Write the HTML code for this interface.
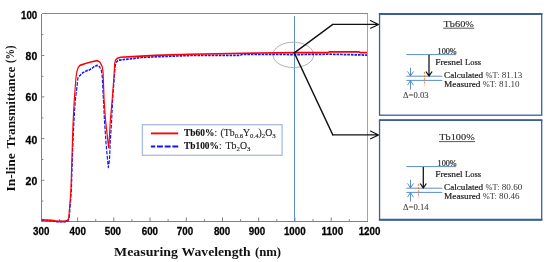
<!DOCTYPE html>
<html lang="en">
<head>
<meta charset="utf-8">
<title>In-line Transmittance vs Measuring Wavelength</title>
<style>
  html, body { margin: 0; padding: 0; background: #ffffff; }
  body { width: 550px; height: 262px; overflow: hidden; }
  svg { display: block; }
  .tick { font-family: "Liberation Sans", sans-serif; font-weight: bold; font-size: 11.8px; fill: #000; stroke: #000; stroke-width: 0.3px; }
  .axl { font-family: "Liberation Serif", serif; font-weight: bold; font-size: 12.4px; fill: #111; }
  .leg text { font-family: "Liberation Serif", serif; font-size: 9.5px; fill: #222; stroke: #222; stroke-width: 0.12px; }
  .leg .b { font-weight: bold; fill: #111; }
  .leg .sub { font-size: 6.6px; }
  .ttl { font-family: "Liberation Serif", serif; font-size: 9px; fill: #222; stroke: #222; stroke-width: 0.1px; }
  .bod text { font-family: "Liberation Serif", serif; font-size: 8px; fill: #1c1c1c; stroke: #1c1c1c; stroke-width: 0.18px; }
  .bod .lt { fill: #333; stroke: none; font-size: 7.8px; }
  .bod .dl { fill: #444; stroke: #444; stroke-width: 0.1px; }
</style>
</head>
<body>
<svg width="550" height="262" viewBox="0 0 550 262">
  <rect x="0" y="0" width="550" height="262" fill="#ffffff"/>

  <!-- plot frame -->
  <g fill="none" stroke-width="1" shape-rendering="crispEdges">
    <path d="M367.5 13.5V221.5" stroke="#a4a4a4"/>
    <path d="M41.5 13.5H367.5" stroke="#888888"/>
    <path d="M41.5 13.5V221.5H367.5" stroke="#808080"/>
  </g>
  <!-- ticks -->
  <g stroke="#808080" stroke-width="1" fill="none" id="ticks">
    <path d="M42 55.5h2.4M42 96.9h2.4M42 138.6h2.4M42 180.3h2.4"/>
    <path d="M42 34.7h1.4M42 76.3h1.4M42 117.9h1.4M42 159.5h1.4M42 201.1h1.4"/>
    <path d="M77.6 221v-3.6M113.8 221v-3.6M150 221v-3.6M186.3 221v-3.6M222.5 221v-3.6M258.7 221v-3.6M294.9 221v-3.6M331.2 221v-3.6"/>
    <path d="M59.5 221v-1.8M95.7 221v-1.8M131.9 221v-1.8M168.1 221v-1.8M204.4 221v-1.8M240.6 221v-1.8M276.8 221v-1.8M313 221v-1.8M349.3 221v-1.8"/>
  </g>

  <!-- vertical marker at 1000 nm -->
  <line x1="294.5" y1="16" x2="294.5" y2="221" stroke="#5b8bc6" stroke-width="1" shape-rendering="crispEdges"/>

  <!-- ellipse -->
  <ellipse cx="293.3" cy="54.9" rx="20.3" ry="12.7" fill="none" stroke="#a8a8a8" stroke-width="0.9"/>

  <!-- curves -->
  <g transform="matrix(0.7 0 0 1 0 0)" fill="none" stroke-linejoin="round">
  <path id="blue" stroke="#1414ff" stroke-width="1.7" stroke-dasharray="3.7 1.4"
    d="M60.00 219.8 L65.71 220.3 L77.43 220.9 L81.43 221.55 L93.14 221.55 L97.14 220.8 L98.71 218.3 L99.43 213.7 L100.43 204.6 L101.00 200 L102.00 190 L103.00 168 L104.00 146 L105.43 124 L107.43 101 L109.43 90 L111.29 78 L112.86 76.4 L118.14 72.8 L123.29 70.9 L128.57 69.6 L135.14 66.4 L139.00 65.4 L142.29 66.8 L144.86 70.5 L146.00 76 L147.71 99 L149.29 121 L151.43 143 L154.71 167.5 L156.43 160 L157.43 143 L159.43 121 L161.00 99 L163.43 76 L164.71 65.6 L166.29 61.9 L169.57 60.1 L182.71 59.2 L202.29 57.5 L221.43 56.8 L271.43 55.5 L328.57 55.3 L342.86 55.3 L345.71 54.5 L385.71 54.3 L421.43 54.6 L471.43 54.2 L500.00 54.7 L524.29 55.1"/>
  <path id="red" stroke="#ff0000" stroke-width="1.65"
    d="M59.29 219.5 L65.00 220 L76.71 220.6 L80.71 221.4 L92.43 221.4 L96.43 220.6 L98.00 218.3 L98.71 213.7 L99.71 204.6 L100.29 200 L101.29 190 L102.29 168 L103.29 146 L104.29 124 L106.00 101 L107.14 90 L108.43 78 L109.57 72.3 L111.57 67.7 L114.14 65.4 L123.29 63.2 L131.14 61.8 L139.00 60.6 L142.86 62.2 L146.14 66.8 L147.29 72.3 L147.57 78 L148.71 100 L150.86 121 L155.14 147.5 L155.71 144 L157.57 121 L160.29 99 L162.86 76 L163.71 63.7 L165.00 60.1 L167.71 58.2 L172.29 57.3 L189.29 56.6 L221.43 55.4 L271.43 54.3 L328.57 53.5 L371.43 53 L421.43 52.6 L468.86 52.6 L470.29 51.9 L513.14 51.9 L514.57 52.6 L524.29 52.6"/>
  </g>

  <!-- tick labels -->
  <g class="tick" text-anchor="end">
    <text x="37.2" y="18.5" textLength="16.2" lengthAdjust="spacingAndGlyphs">100</text>
    <text x="37.2" y="60" textLength="11.6" lengthAdjust="spacingAndGlyphs">80</text>
    <text x="37.2" y="101.4" textLength="11.6" lengthAdjust="spacingAndGlyphs">60</text>
    <text x="37.2" y="144.1" textLength="11.6" lengthAdjust="spacingAndGlyphs">40</text>
    <text x="37.2" y="185.4" textLength="11.6" lengthAdjust="spacingAndGlyphs">20</text>
  </g>
  <g class="tick" text-anchor="middle">
    <text x="41.2" y="235.2" textLength="16.3" lengthAdjust="spacingAndGlyphs">300</text>
    <text x="77.7" y="235.2" textLength="16.3" lengthAdjust="spacingAndGlyphs">400</text>
    <text x="112.9" y="235.2" textLength="16.3" lengthAdjust="spacingAndGlyphs">500</text>
    <text x="149.9" y="235.2" textLength="16.3" lengthAdjust="spacingAndGlyphs">600</text>
    <text x="185" y="235.2" textLength="16.3" lengthAdjust="spacingAndGlyphs">700</text>
    <text x="222.1" y="235.2" textLength="16.3" lengthAdjust="spacingAndGlyphs">800</text>
    <text x="257" y="235.2" textLength="16.3" lengthAdjust="spacingAndGlyphs">900</text>
    <text x="294.8" y="235.2" textLength="21.7" lengthAdjust="spacingAndGlyphs">1000</text>
    <text x="332.4" y="235.2" textLength="21.7" lengthAdjust="spacingAndGlyphs">1100</text>
    <text x="369.5" y="235.2" textLength="21.7" lengthAdjust="spacingAndGlyphs">1200</text>
  </g>

  <!-- axis labels -->
  <g class="axl" style="font-size:11.9px"><text x="114.1" y="255.8" textLength="63.9" lengthAdjust="spacingAndGlyphs">Measuring</text><text x="181.6" y="255.8" textLength="69.1" lengthAdjust="spacingAndGlyphs">Wavelength</text><text x="254.9" y="255.8" textLength="26.2" lengthAdjust="spacingAndGlyphs">(nm)</text></g>
  <g class="axl" transform="translate(15.3 0) rotate(-90)" style="font-size:13.4px"><text x="-191.5" y="0" textLength="38.3" lengthAdjust="spacingAndGlyphs">In-line</text><text x="-148.6" y="0" textLength="82" lengthAdjust="spacingAndGlyphs">Transmittance</text><text x="-63" y="-0.9" textLength="17.4" lengthAdjust="spacingAndGlyphs">(%)</text></g>

  <!-- legend -->
  <rect x="142.4" y="124.7" width="139.7" height="30.6" fill="#ffffff" stroke="#a9bddb" stroke-width="1.3"/>
  <line x1="150.9" y1="133.4" x2="178.2" y2="133.4" stroke="#ff0000" stroke-width="1.85"/>
  <line x1="150.9" y1="146.5" x2="178.2" y2="146.5" stroke="#1414ff" stroke-width="2" stroke-dasharray="5.9 1.8" stroke-dashoffset="1.6"/>
  <g class="leg">
    <text x="184.1" y="135.8" textLength="32.9" lengthAdjust="spacingAndGlyphs"><tspan class="b">Tb60%</tspan>:</text>
    <text x="220.6" y="135.8" textLength="55" lengthAdjust="spacingAndGlyphs">(Tb<tspan class="sub" dy="2.2">0.6</tspan><tspan dy="-2.2">Y</tspan><tspan class="sub" dy="2.2">0.4</tspan><tspan dy="-2.2">)</tspan><tspan class="sub" dy="2.2">2</tspan><tspan dy="-2.2">O</tspan><tspan class="sub" dy="2.2">3</tspan></text>
    <text x="184.1" y="148.9" textLength="37.4" lengthAdjust="spacingAndGlyphs"><tspan class="b">Tb100%</tspan>:</text>
    <text x="225.6" y="148.9" textLength="24.9" lengthAdjust="spacingAndGlyphs">Tb<tspan class="sub" dy="1.9">2</tspan><tspan dy="-1.9">O</tspan><tspan class="sub" dy="1.9">3</tspan></text>
  </g>

  <!-- connector arrows -->
  <g fill="none" stroke="#111111" stroke-linejoin="round" stroke-linecap="round">
    <path d="M294.3 52.9 L332.8 24.4" stroke-width="1.35"/>
    <path d="M332.8 24.4 L378.4 24.4 M370.4 20.6 L378.6 24.4 L370.6 28.2" stroke-width="1.15"/>
    <path d="M294.3 52.9 L332.8 134.9" stroke-width="1.35"/>
    <path d="M332.8 134.9 L378.4 134.9 M370.4 131.1 L378.6 134.9 L370.6 138.7" stroke-width="1.15"/>
  </g>

  <!-- panel 1 -->
  <rect x="379.55" y="14.1" width="162.15" height="101.1" fill="#ffffff" stroke="#3d6099" stroke-width="1.3"/>
  <line x1="378.9" y1="13.9" x2="542.35" y2="13.9" stroke="#3b5e97" stroke-width="2"/>
  <text class="ttl" x="443.5" y="26.5" textLength="30.4" lengthAdjust="spacingAndGlyphs">Tb60%</text>
  <line x1="443.2" y1="28.2" x2="474.2" y2="28.2" stroke="#444" stroke-width="0.9"/>
  <g stroke="#4a80c4" stroke-width="0.9" fill="none">
    <path d="M406.4 54.6H456.3M406.4 76.2H442.3M406.4 80.4H442.3"/>
    <path d="M410.5 67.8V75.8M407.5 71.4L410.5 76L413.5 71.4"/>
    <path d="M410.5 89.6V80.8M407.5 85.2L410.5 80.6L413.5 85.2"/>
  </g>
  <line x1="424.4" y1="71.9" x2="424.4" y2="85.4" stroke="#ff6a1a" stroke-width="0.9" stroke-dasharray="2 1.2"/>
  <g stroke="#111" stroke-width="1.25" fill="none">
    <path d="M429 55V75.6M425.9 71.5L429 76L432.1 71.5"/>
  </g>
  <g class="bod">
    <text x="437.6" y="53.6" textLength="19.1" lengthAdjust="spacingAndGlyphs">100%</text>
    <text x="435.2" y="64.9" textLength="27.5" lengthAdjust="spacingAndGlyphs">Fresnel</text>
    <text x="465.1" y="64.9" textLength="15.9" lengthAdjust="spacingAndGlyphs">Loss</text>
    <text x="444.1" y="77.8" textLength="39.1" lengthAdjust="spacingAndGlyphs">Calculated</text>
    <text class="lt" x="485.6" y="77.8" textLength="13.9" lengthAdjust="spacingAndGlyphs">%T:</text>
    <text class="lt" x="501.8" y="77.8" textLength="20.5" lengthAdjust="spacingAndGlyphs">81.13</text>
    <text x="444.1" y="86.6" textLength="36.4" lengthAdjust="spacingAndGlyphs">Measured</text>
    <text class="lt" x="482.7" y="86.6" textLength="14.1" lengthAdjust="spacingAndGlyphs">%T:</text>
    <text class="lt" x="499.1" y="86.6" textLength="20.4" lengthAdjust="spacingAndGlyphs">81.10</text>
    <text class="dl" x="403.1" y="98" textLength="25.4" lengthAdjust="spacingAndGlyphs">Δ=0.03</text>
  </g>

  <!-- panel 2 -->
  <rect x="379.55" y="120.3" width="162.15" height="99.5" fill="#ffffff" stroke="#3d6099" stroke-width="1.3"/>
  <line x1="378.9" y1="120.1" x2="542.35" y2="120.1" stroke="#3b5e97" stroke-width="1.9"/>
  <line x1="378.9" y1="219.8" x2="542.35" y2="219.8" stroke="#3b5e97" stroke-width="1.9"/>
  <text class="ttl" x="439.3" y="139.9" textLength="35.4" lengthAdjust="spacingAndGlyphs">Tb100%</text>
  <line x1="439.0" y1="141.6" x2="475.0" y2="141.6" stroke="#444" stroke-width="0.9"/>
  <g stroke="#4a80c4" stroke-width="0.9" fill="none">
    <path d="M406.4 166.6H456.3M406.4 188.2H442.3M406.4 192.4H442.3"/>
    <path d="M410.5 179.8V187.8M407.5 183.4L410.5 188L413.5 183.4"/>
    <path d="M410.5 201.6V192.8M407.5 197.2L410.5 192.6L413.5 197.2"/>
  </g>
  <line x1="418.4" y1="183.9" x2="418.4" y2="197.4" stroke="#ff6a1a" stroke-width="0.9" stroke-dasharray="2 1.2"/>
  <g stroke="#111" stroke-width="1.25" fill="none">
    <path d="M423.3 167V187.6M420.2 183.5L423.3 188L426.4 183.5"/>
  </g>
  <g class="bod">
    <text x="437.6" y="165.6" textLength="19.1" lengthAdjust="spacingAndGlyphs">100%</text>
    <text x="435.2" y="176.9" textLength="27.5" lengthAdjust="spacingAndGlyphs">Fresnel</text>
    <text x="465.1" y="176.9" textLength="15.9" lengthAdjust="spacingAndGlyphs">Loss</text>
    <text x="444.1" y="189.8" textLength="39.1" lengthAdjust="spacingAndGlyphs">Calculated</text>
    <text class="lt" x="485.6" y="189.8" textLength="13.9" lengthAdjust="spacingAndGlyphs">%T:</text>
    <text class="lt" x="501.8" y="189.8" textLength="20.5" lengthAdjust="spacingAndGlyphs">80.60</text>
    <text x="444.1" y="198.6" textLength="36.4" lengthAdjust="spacingAndGlyphs">Measured</text>
    <text class="lt" x="482.7" y="198.6" textLength="14.1" lengthAdjust="spacingAndGlyphs">%T:</text>
    <text class="lt" x="499.1" y="198.6" textLength="20.4" lengthAdjust="spacingAndGlyphs">80.46</text>
    <text class="dl" x="403.1" y="210" textLength="25.4" lengthAdjust="spacingAndGlyphs">Δ=0.14</text>
  </g>
</svg>
</body>
</html>
